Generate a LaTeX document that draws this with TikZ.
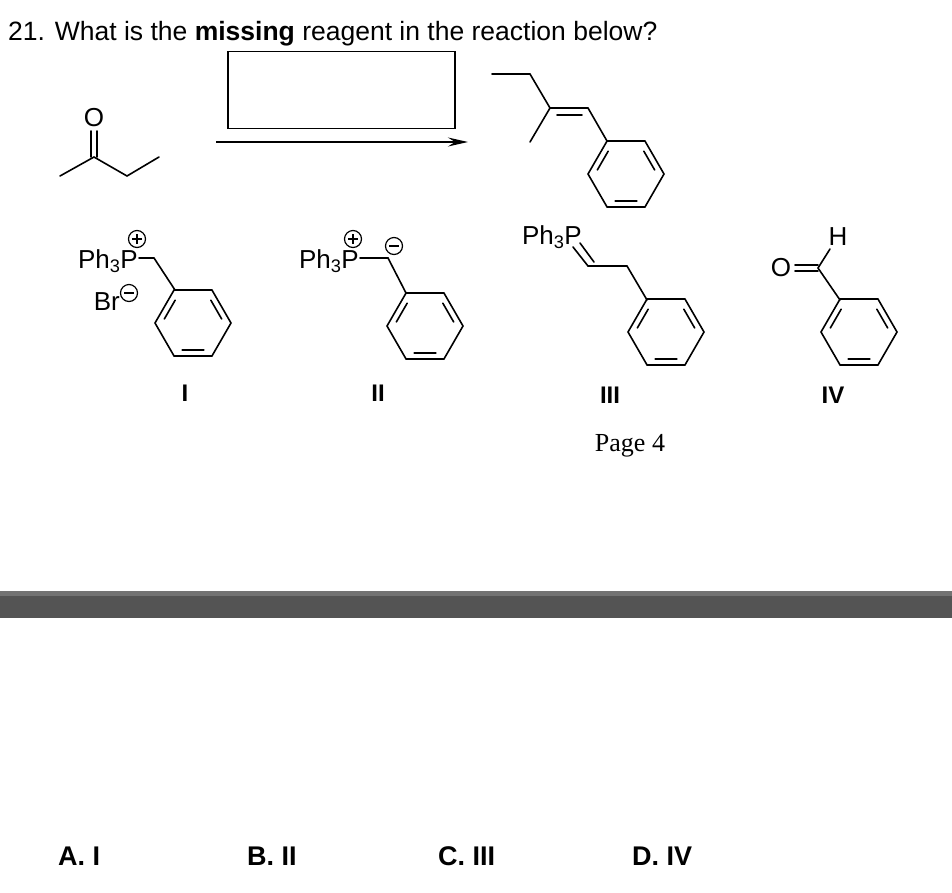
\documentclass[tikz,border=0pt]{standalone}
\usepackage{fontspec}
\setmainfont{Liberation Sans}
\newfontfamily\serifpage{Liberation Serif}
\usetikzlibrary{calc,arrows.meta}
\tikzset{
  bond/.style={line width=1.6pt,line cap=round},
  lbl/.style={inner sep=0pt,font=\fontsize{26}{26}\selectfont},
  rom/.style={inner sep=0pt,font=\fontsize{24}{24}\selectfont\bfseries},
  ans/.style={inner sep=0pt,anchor=west,font=\fontsize{27}{27}\selectfont\bfseries},
  pics/benz/.style={code={
    \foreach \a in {0,60,...,300}{\draw[bond] (\a:38) -- (\a+60:38);}
    \foreach \a in {300,60,180}{\draw[bond] ($(\a:31)!0.15!(\a+60:31)$) -- ($(\a:31)!0.85!(\a+60:31)$);}
  }}
}
\newcommand{\chgp}[2]{\draw[line width=1.2pt] (#1,#2) circle (8.5); \draw[line width=1.2pt] (#1-5,#2)--(#1+5,#2) (#1,#2-5)--(#1,#2+5);}
\newcommand{\chgm}[2]{\draw[line width=1.2pt] (#1,#2) circle (8.5); \draw[line width=1.2pt] (#1-5,#2)--(#1+5,#2);}
\begin{document}
\begin{tikzpicture}[x=1pt,y=-1pt]
\useasboundingbox (0,0) rectangle (952,892);
\fill[white] (0,0) rectangle (952,892);
\node[anchor=base west,inner sep=0pt,font=\fontsize{26.5}{26.5}\selectfont] (title) at (8,40) {21. What is the \textbf{missing} reagent in the reaction below?};
% reaction
\node[draw,line width=1.4pt,minimum width=227pt,minimum height=77pt,inner sep=0pt] (box) at (341.5,90) {};
\coordinate (a1) at (216,142); \coordinate (a2) at (468,142);
\draw[line width=1.6pt,-{Stealth[length=20pt,width=9pt,inset=7pt]}] (a1) -- (a2);
% ketone
\node[lbl] (O1) at (94,118) {O};
\draw[bond] (91,131)--(91,157) (97,131)--(97,157);
\draw[bond] (60,176)--(94,157)--(127,176)--(159,157);
% product
\draw[bond] (492,74)--(530,74)--(550,108)--(530,142);
\draw[bond] (550,108)--(588,108)--(607,141);
\draw[bond] (557,115)--(582,115);
\pic at (626,174) {benz};
% I
\node[lbl,anchor=east] (P1) at (138,261) {Ph\textsubscript{3}P};
\chgp{137}{239}
\draw[bond] (139,258)--(154,258)--(175,290);
\node[lbl,anchor=east] (Br) at (120,302) {Br};
\chgm{129}{293}
\pic at (193,323) {benz};
\node[rom] (r1) at (185,393) {I};
% II
\node[lbl,anchor=east] (P2) at (359,261) {Ph\textsubscript{3}P};
\chgp{353}{239}
\chgm{394}{246}
\draw[bond] (360,258)--(388,258)--(406,293);
\pic at (425,326) {benz};
\node[rom] (r2) at (378,393) {II};
% III
\node[lbl,anchor=east] (P3) at (582,237) {Ph\textsubscript{3}P};
\draw[bond] (573,247)--(588,266) (580,243)--(594,262);
\draw[bond] (588,266)--(627,266)--(647,300);
\pic at (666,332) {benz};
\node[rom] (r3) at (610,395) {III};
% IV
\node[lbl] (H4) at (838,237) {H};
\node[lbl] (O4) at (781,268) {O};
\draw[bond] (795,265)--(818,265) (795,271)--(818,271);
\draw[bond] (830,249)--(818,268)--(840,300);
\pic at (859,332) {benz};
\node[rom] (r4) at (833,395) {IV};
\node[inner sep=0pt,font=\serifpage\fontsize{26}{26}\selectfont] (pg) at (630,446) {Page 4};
% band
\fill[black!67] (0,591) rectangle (952,618);
\fill[black!55] (0,591) rectangle (952,596);
\node[ans] (A) at (58,856) {A. I};
\node[ans] (B) at (247,856) {B. II};
\node[ans] (C) at (438,856) {C. III};
\node[ans] (D) at (632,856) {D. IV};
\end{tikzpicture}
\end{document}
